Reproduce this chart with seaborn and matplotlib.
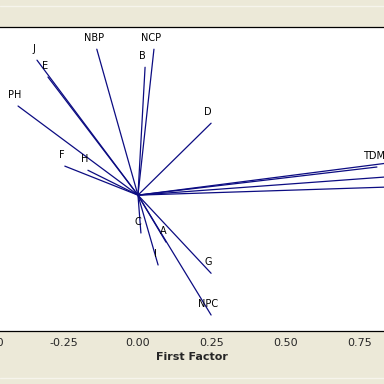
import numpy as np
import pandas as pd
import matplotlib
matplotlib.use("Agg")
import matplotlib.pyplot as plt
from matplotlib.lines import Line2D
import seaborn as sns

# loadings (first factor, second factor)
variables = ['NBP', 'NCP', 'B', 'J', 'E', 'PH', 'F', 'H', 'D', 'TDM',
             'C', 'A', 'I', 'G', 'NPC']
first_factor = [-0.139, 0.054, 0.024, -0.341, -0.304, -0.405, -0.247, -0.169,
                0.247, 0.807, 0.010, 0.095, 0.068, 0.247, 0.247]
second_factor = [0.493, 0.493, 0.432, 0.456, 0.399, 0.301, 0.098, 0.084,
                 0.243, 0.095, -0.128, -0.159, -0.236, -0.264, -0.405]

# vectors running off the right edge, labels not visible
hidden_first = [1.05, 1.05, 1.05]
hidden_second = [0.135, 0.077, 0.034]

rows = []
for name, x, y in zip(variables, first_factor, second_factor):
    rows.append({'var': name, 'x': 0.0, 'y': 0.0})
    rows.append({'var': name, 'x': x, 'y': y})
for i, (x, y) in enumerate(zip(hidden_first, hidden_second)):
    rows.append({'var': f'hidden{i}', 'x': 0.0, 'y': 0.0})
    rows.append({'var': f'hidden{i}', 'x': x, 'y': y})
df = pd.DataFrame(rows)

sns.set_style("white")
plt.rcParams['font.family'] = ['DejaVu Sans']

bg = '#ECE9D8'
fig = plt.figure(figsize=(3.84, 3.84), dpi=100, facecolor=bg)
# axes extend past the picture on the left and right (cropped chart)
ax = fig.add_axes([-40 / 384, 53 / 384, 464 / 384, 304 / 384])
ax.set_facecolor('white')

sns.lineplot(data=df, x='x', y='y', units='var', estimator=None, sort=False,
             color='#0c0c82', linewidth=0.9, ax=ax)

for name, x, y in zip(variables, first_factor, second_factor):
    ax.annotate(name, (x, y), xytext=(-2.2, 7.9), textcoords='offset points',
                ha='center', va='center', fontsize=7, color='black')

ax.set_xlim(-0.601, 0.966)
ax.set_ylim(-0.459, 0.568)
ax.set_xticks([-0.50, -0.25, 0.00, 0.25, 0.50, 0.75])
ax.set_xticklabels(['-0.50', '-0.25', '0.00', '0.25', '0.50', '0.75'])
ax.set_yticks([])
ax.tick_params(axis='x', direction='in', length=2.5, width=0.8,
               labelsize=8, pad=5, color='black')
ax.set_xlabel('First Factor', fontsize=8, fontweight='bold', labelpad=3)
ax.set_ylabel('')
for s in ax.spines.values():
    s.set_color('black')
    s.set_linewidth(0.9)

fig.add_artist(Line2D([0, 1], [1 - 6 / 384, 1 - 6 / 384], color='#F6F4EC',
                      linewidth=1.0, transform=fig.transFigure))
fig.add_artist(Line2D([0, 1], [6 / 384, 6 / 384], color='#F6F4EC',
                      linewidth=1.0, transform=fig.transFigure))

fig.savefig('out.png', dpi=100, facecolor=bg)
